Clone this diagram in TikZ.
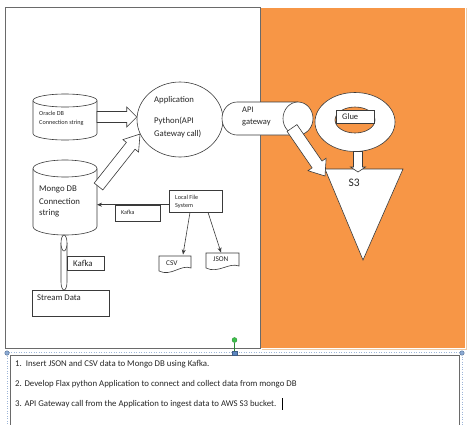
\documentclass[tikz,border=0pt]{standalone}
\usepackage{fontspec}
\setmainfont{Carlito}
\usetikzlibrary{calc,shapes.geometric,arrows.meta}
\definecolor{office}{HTML}{F79646}
\definecolor{lin}{HTML}{3A3A3A}
\definecolor{panel}{HTML}{6A6A6A}
\definecolor{tanline}{HTML}{EBCBA8}
\definecolor{hblue}{HTML}{5B86C0}
\definecolor{hgreen}{HTML}{3CC04A}
\definecolor{txt}{HTML}{262626}
\tikzset{
  shp/.style={draw=lin, line width=0.6pt, fill=white},
  barrow/.style={draw=lin, line width=0.6pt, fill=white, line join=miter},
  conn/.style={draw=lin, line width=0.6pt, -{Stealth[length=5pt,width=4pt]}},
  lbl/.style={anchor=west, inner sep=0pt, text=txt},
  fsz/.style={font=\fontsize{#1}{#1}\selectfont},
  hole/.style={inner sep=0pt, outer sep=0pt},
}
\newcommand\blockarrow[5]{%
  \coordinate (ba-c) at ($(#2)!#5!(#1)$);
  \draw[barrow] ($(#1)!#3!90:(#2)$) -- ($(ba-c)!#3!-90:(#1)$) -- ($(ba-c)!#4!-90:(#1)$)
    -- (#2) -- ($(ba-c)!#4!90:(#1)$) -- ($(ba-c)!#3!90:(#1)$) -- ($(#1)!#3!-90:(#2)$) -- cycle;}
\begin{document}
\begin{tikzpicture}[x=1pt,y=1pt]
\useasboundingbox (0,0) rectangle (474,-424);
\fill[white] (0,0) rectangle (474,-424);
% panels
\fill[office] (261,-8) rectangle (465,-348);
\draw[tanline, line width=1.5pt] (466.5,-8) -- (466.5,-349.5) -- (262,-349.5);
\draw[panel, line width=0.8pt] (5,-7) rectangle (260,-348);

% Oracle cylinder
\draw[shp] (33,-100.5) -- (33,-133.5) arc[start angle=180, end angle=360, x radius=32pt, y radius=6.5pt] -- (97,-100.5);
\draw[shp] (65,-100.5) ellipse[x radius=32pt, y radius=6.5pt];
\node[hole, minimum width=64pt, minimum height=46pt] (oracle) at (65,-117) {};
\node[lbl, fsz=6.2] at (39,-113) {Oracle DB};
\node[lbl, fsz=6.2] at (39,-123) {Connection string};

% Application ellipse
\node[shp, ellipse, inner sep=0pt, minimum width=86pt, minimum height=75pt] (app) at (180,-119.5) {};
\node[lbl, fsz=8.7] at (154,-100) {Application};
\node[lbl, fsz=8.7] at (154,-121) {Python(API};
\node[lbl, fsz=8.7] at (154,-134) {Gateway call)};

% API gateway (horizontal cylinder)
\draw[shp] (298,-102) -- (237,-102) arc[start angle=90, end angle=270, x radius=15pt, y radius=16.5pt] -- (298,-135);
\draw[shp] (298,-118.5) ellipse[x radius=15pt, y radius=16.5pt];
\node[hole, minimum width=91pt, minimum height=33pt] (api) at (267.5,-118.5) {};
\node[lbl, fsz=8.5] at (242,-110) {API};
\node[lbl, fsz=8.5] at (242,-123) {gateway};

% Glue donut
\draw[shp] (355,-122) ellipse[x radius=40pt, y radius=29.5pt];
\draw[draw=lin, line width=0.6pt, fill=office] (355,-120) ellipse[x radius=20pt, y radius=13pt];
\node[hole, minimum width=80pt, minimum height=59pt] (donut) at (355,-122) {};
\node[shp, inner sep=0pt, minimum width=38pt, minimum height=13pt] (glue) at (355,-116.5) {};
\node[lbl, fsz=8.5] at (342,-116.5) {Glue};

% S3 triangle
\draw[shp, line join=miter] (325,-169) coordinate (s3l) -- (403,-169) coordinate (s3r) -- (363,-260) coordinate (s3b) -- cycle;
\coordinate (s3top) at ($(s3l)!0.5!(s3r)$);
\node[lbl, fsz=11.5] (s3) at (348.5,-183) {S3};

% Mongo cylinder
\draw[shp] (33,-168.5) -- (33,-226.5) arc[start angle=180, end angle=360, x radius=32pt, y radius=8.5pt] -- (97,-168.5);
\draw[shp] (65,-168.5) ellipse[x radius=32pt, y radius=8.5pt];
\node[hole, minimum width=64pt, minimum height=75pt] (mongo) at (65,-197.5) {};
\node[lbl, fsz=8.8] at (39,-189) {Mongo DB};
\node[lbl, fsz=8.8] at (39,-201) {Connection};
\node[lbl, fsz=8.8] at (39,-213) {string};

% small vertical cylinder (Kafka pipe)
\draw[shp] (61,-243) -- (61,-282) arc[start angle=180, end angle=360, x radius=3pt, y radius=8pt] -- (67,-243);
\draw[shp] (64,-243) ellipse[x radius=3pt, y radius=8pt];
\node[hole, minimum width=6pt, minimum height=55pt] (pipe) at (64,-262.5) {};

% Kafka label boxes
\node[shp, inner sep=0pt, minimum width=37pt, minimum height=14.5pt] (kafkaB) at (85.5,-263.25) {};
\node[lbl, fsz=8.8] at (73,-263.5) {Kafka};
\node[shp, inner sep=0pt, minimum width=45pt, minimum height=16pt] (kafkaS) at (137.5,-213) {};
\node[lbl, fsz=6] at (121,-212.5) {Kafka};

% Stream Data
\node[shp, inner sep=0pt, minimum width=77pt, minimum height=26pt] (stream) at (70.5,-303) {};
\node[lbl, fsz=8.7] at (37,-298) {Stream Data};

% Local File System
\node[shp, inner sep=0pt, minimum width=53pt, minimum height=22pt] (lfs) at (195.5,-201) {};
\node[lbl, fsz=6.2] at (175,-197) {Local File};
\node[lbl, fsz=6.2] at (175,-206) {System};

% CSV / JSON documents
\draw[shp] (159,-256) -- (191,-256) -- (191,-268) .. controls (181,-264) and (171,-277) .. (159,-271) -- cycle;
\node[hole, minimum width=32pt, minimum height=15pt] (csv) at (175,-263.5) {};
\node[lbl, fsz=7.3] at (166,-263) {CSV};
\draw[shp] (206,-253) -- (239,-253) -- (239,-266) .. controls (229,-262) and (218,-274) .. (206,-268) -- cycle;
\node[hole, minimum width=33pt, minimum height=14pt] (json) at (222.5,-260) {};
\node[lbl, fsz=7.3] at (213,-259.5) {JSON};

% connectors
\draw[conn] (lfs.west |- kafkaS.north) -- (mongo.east |- kafkaS.north);
\draw[conn] ($(lfs.south)+(-5.5,0)$) -- ($(csv.north)+(8,1.5)$);
\draw[conn] ($(lfs.south)+(12.5,0)$) -- ($(json.north)+(-1.5,0.5)$);

% block arrows
\coordinate (a1t) at (oracle.east);
\coordinate (a1h) at (app.west |- oracle.east);
\blockarrow{a1t}{a1h}{5.5pt}{10pt}{10pt}
\coordinate (a2t) at ($(mongo.east)+(1.5,11)$);
\coordinate (a2h) at (app.200);
\blockarrow{a2t}{a2h}{5.5pt}{10pt}{15pt}
\coordinate (a3t) at ($(api.east)+(-21,-9.5)$);
\coordinate (a3h) at ($(s3l)+(0,-7)$);
\blockarrow{a3t}{a3h}{6pt}{11pt}{14pt}
\coordinate (a4t) at ($(donut.south)+(3,0)$);
\coordinate (a4h) at ($(s3top)+(-6,-3)$);
\blockarrow{a4t}{a4h}{4.5pt}{7.5pt}{5pt}

% bottom text box with selection handles
\draw[hblue!60, line width=0.5pt, dotted] (7,-426) -- (7,-352.5) -- (462,-352.5) -- (462,-426);
\draw[panel, line width=0.8pt] (10,-426) -- (10,-355.5) -- (459,-355.5) -- (459,-426);
\node[lbl, fsz=8.8] (t1) at (15,-364) {1.\ \ Insert JSON and CSV data to Mongo DB using Kafka.};
\node[lbl, fsz=8.8] (t2) at (15,-384) {2. Develop Flax python Application to connect and collect data from mongo DB};
\node[lbl, fsz=8.8] (t3) at (15,-404) {3. API Gateway call from the Application to ingest data to AWS S3 bucket.};
\draw[black, line width=1pt] (282,-398) -- (282,-410);
\node[circle, fill=hgreen, draw=hgreen!70!black, line width=0.3pt, inner sep=0pt, minimum size=5pt] (rot) at (234.5,-340) {};
\node[rectangle, fill=hblue, draw=hblue!70!black, line width=0.3pt, inner sep=0pt, minimum size=4.5pt] (hm) at (234.5,-353) {};
\draw[hgreen!70!black, line width=0.5pt] (rot) -- (hm);
\node[circle, fill=hblue!70, draw=hblue!70!black, line width=0.3pt, inner sep=0pt, minimum size=4.5pt] (hl) at (7,-353) {};
\node[circle, fill=hblue!70, draw=hblue!70!black, line width=0.3pt, inner sep=0pt, minimum size=4.5pt] (hr) at (462,-353) {};
\end{tikzpicture}
\end{document}
